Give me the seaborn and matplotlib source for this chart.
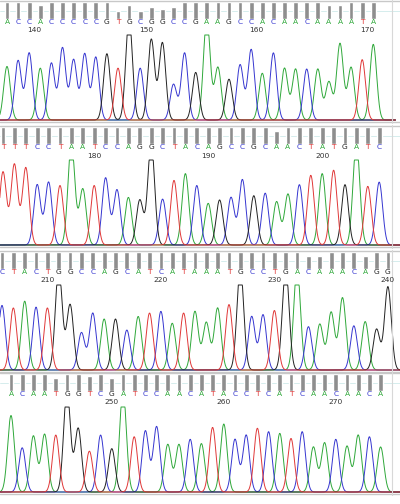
import numpy as np
import pandas as pd
import matplotlib
matplotlib.use("Agg")
import matplotlib.pyplot as plt
import seaborn as sns

# bases per row (start position of each row)
row_starts = [138, 172, 206, 241]
row_bases = [
    "ACCACCCCCGTGCGGCCGAAGCCACAACAAAATA",
    "TTTCCTAATCCAGGCTACAGCCGCAACTATGATC",
    "CTACTGGCCAGCATCATAAATGCCTGACAAACAGG",
    "ACAATGGTCGATCCAACATACCTCATCAACAACA",
]
# relative peak heights (1 = clipped at top)
row_heights = [
    [.63, .70, .79, .61, .67, .85, .71, .78, .74, .78, .61, 1.2, .61, .95, .91, .42, .79,
     .56, 1.2, .62, .48, .65, .83, .55, .79, .61, .60, .60, .60, .45, .90, .62, .71, .89],
    [.86, .95, .91, .71, .74, .70, 1.2, .66, .70, .79, .65, .56, .53, 1.2, .54, .76, .84,
     .70, .49, .53, .56, .77, .58, .61, .51, .60, .71, .82, .84, .88, .71, 1.2, .69, .74],
    [.76, .73, .81, .74, .73, 1.2, .77, .44, .67, .60, .60, .47, .63, .67, .69, .55, .67,
     .69, .56, .73, .77, 1.2, .63, .65, .70, 1.2, 1.2, .51, .54, .68, .85, .52, .57, .48, .98],
    [.90, .52, .66, .68, .67, 1.2, .75, .48, .67, .51, 1.2, .65, .72, .77, .56, .56, .62,
     .57, .76, .80, .62, .67, .75, .71, .69, .63, .71, .53, .58, .62, .54, .67, .65, .53],
]
# quality bar heights (0..1)
row_quality = [
    [1, 1, 1, .85, 1, 1, 1, 1, 1, 1, .45, .8, .45, .7, .6, .7, 1, 1, 1, 1, 1, 1, 1, 1,
     1, 1, 1, 1, 1, .8, .8, 1, 1, 1],
    [1] * 24 + [.75] + [1] * 9,
    [1] * 26 + [1, .75, .75, 1, 1, 1, .75, 1, 1],
    [1, 1, 1, 1, .75, 1, 1, .9, 1, .75] + [1] * 24,
]
# pixel x of first base and spacing per row
row_x0 = [7, 3, 2, 11]
row_dx = [11.1, 11.4, 11.35, 11.2]
label_shift = [0.5, 0, 0, 0]
row_tops = [0, 125, 250, 372]

base_colors = {"A": "#2fa83a", "C": "#3636d0", "G": "#222222", "T": "#e03838"}

sns.set_style("white")
fig = plt.figure(figsize=(4.0, 5.04), dpi=100)
W, H = 400, 504

for r in range(4):
    top = row_tops[r]
    ax = fig.add_axes([0, 1 - (top + 124) / H, 1, 124 / H])
    x0, dx = row_x0[r], row_dx[r]
    ax.set_xlim(-x0 / dx, (W - x0) / dx)
    ax.set_ylim(0, 124)
    bases = row_bases[r]
    heights = row_heights[r]
    xs = np.linspace(-1, len(bases) + 1, 1600)
    frames = []
    for b in "ACGT":
        y = np.zeros_like(xs)
        for i, (c, h) in enumerate(zip(bases, heights)):
            if c == b:
                y += h * np.exp(-0.5 * ((xs - i) / 0.3) ** 2)
        y = np.minimum(y, 1.0) * 85 + 4
        frames.append(pd.DataFrame({"x": xs, "y": y, "base": b}))
    df = pd.concat(frames)
    sns.lineplot(data=df, x="x", y="y", hue="base", palette=base_colors,
                 linewidth=0.7, legend=False, ax=ax, sort=False)
    ax.axhline(2.5, color="#c8c8c8", lw=1.0)
    # quality bars and base letters
    qdf = pd.DataFrame({"i": np.arange(len(bases)), "q": row_quality[r]})
    ax.bar(qdf["i"], qdf["q"] * 17, bottom=105, width=0.42, color="#8e8e8e")
    ax.axhline(113, color="#cfeaea", lw=0.6, zorder=0)
    ax.axhline(123.5, color="#c8c8c8", lw=1.0)
    for i, c in enumerate(bases):
        ax.text(i, 102, c, ha="center", va="center", fontsize=5.4,
                color=base_colors[c])
    start = row_starts[r]
    for n in range((start // 10 + 1) * 10, start + len(bases) + 1, 10):
        ax.text(n - start + label_shift[r], 93.5, str(n), ha="center",
                va="center", fontsize=5.4, color="#333333")
    ax.axvline((392 - x0) / dx, color="#d8d8d8", lw=0.8)
    ax.axis("off")

fig.savefig("out.png", dpi=100)
